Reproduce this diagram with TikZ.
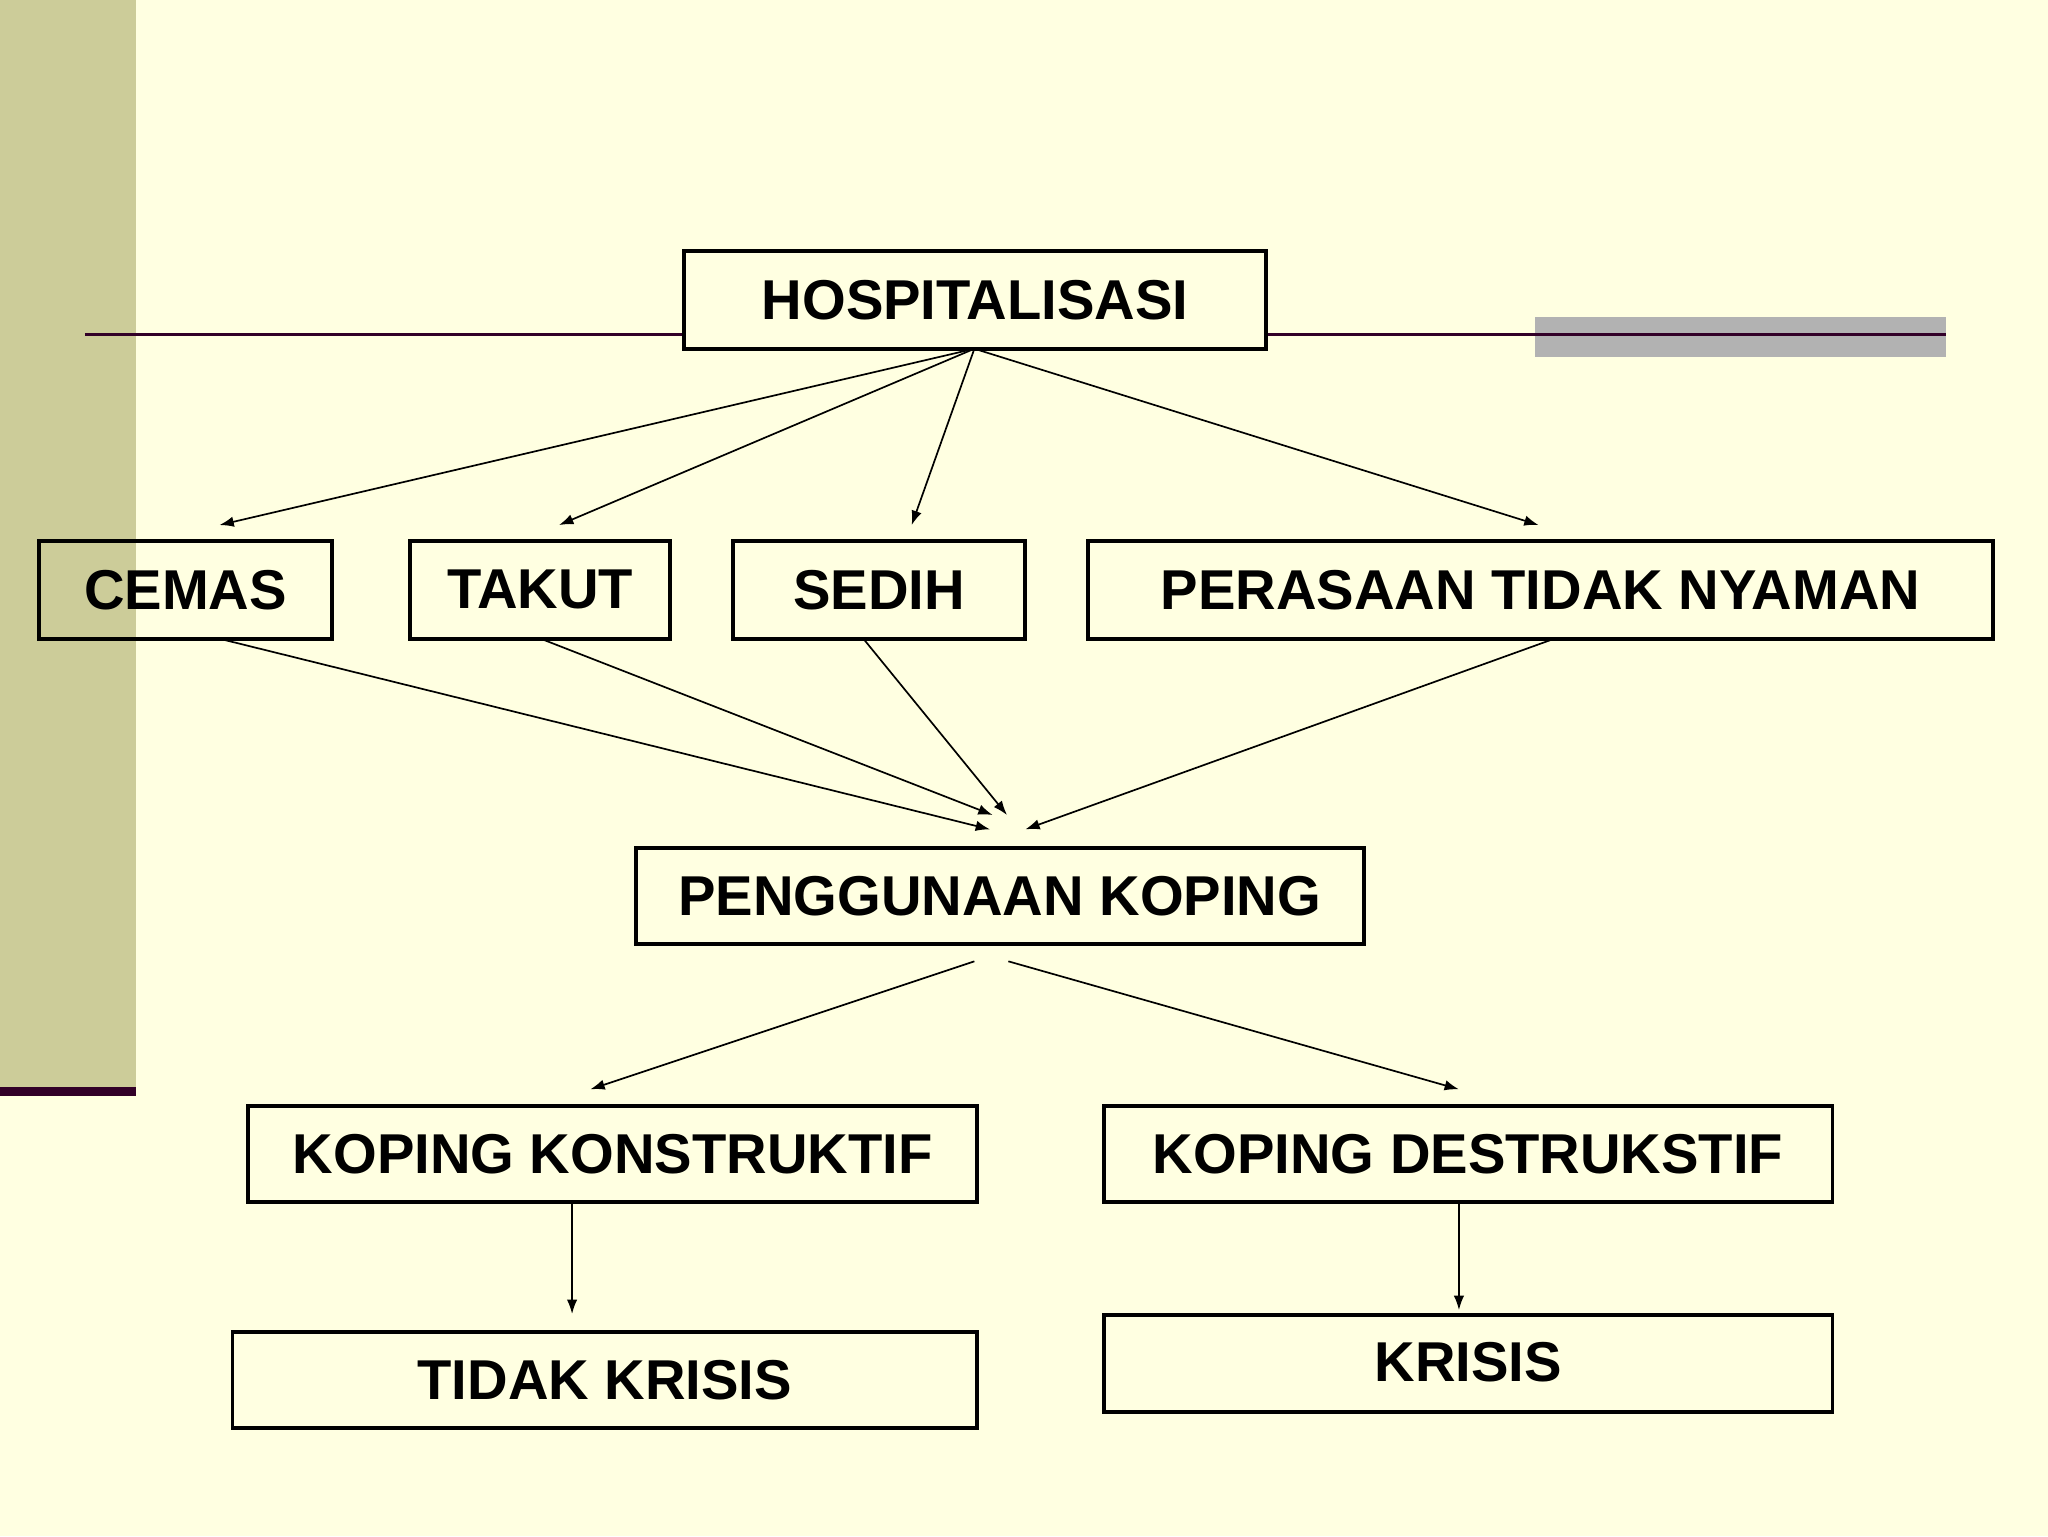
\documentclass[tikz,border=0pt]{standalone}
\usepackage{fontspec}
\setmainfont{Liberation Sans}
\usetikzlibrary{arrows.meta}
\definecolor{bg}{RGB}{255,255,225}
\definecolor{bar}{RGB}{204,204,153}
\definecolor{dpurp}{RGB}{50,0,40}
\tikzset{
 bx/.style={draw=black,line width=3pt,inner sep=0pt,font=\fontsize{43}{45}\selectfont\bfseries},
 ar/.style={-{Latex[length=11pt,width=8pt]},line width=1.3pt}
}
\begin{document}
\begin{tikzpicture}[x=1pt,y=-1pt]
\fill[bg] (0,0) rectangle (1568,1176);
\useasboundingbox (0,0) rectangle (1568,1176);
\fill[bar] (0,0) rectangle (104,835);
\fill[dpurp] (0,832) rectangle (104,839);
\fill[gray!60] (1175,243) rectangle (1490,273);
\draw[dpurp,line width=2.5pt] (65,256) -- (1490,256);
\newcommand{\bxn}[6]{\node[bx,minimum width={#4-#2},minimum height={#5-#3}] (#1) at ({(#2+#4)/2},{(#3+#5)/2}) {};\node[font=\fontsize{43}{45}\selectfont\bfseries] at ({(#2+#4)/2},{(#3+#5)/2}) {#6};}
\fill[bg] (524,192) rectangle (969,267);
\bxn{h}{524}{192}{969}{267}{HOSPITALISASI}
\bxn{c}{30}{414}{254}{489}{CEMAS}
\bxn{t}{314}{414}{513}{489}{TAKUT}
\bxn{s}{561}{414}{785}{489}{SEDIH}
\bxn{p}{833}{414}{1526}{489}{PERASAAN TIDAK NYAMAN}
\bxn{k}{487}{649}{1044}{723}{PENGGUNAAN KOPING}
\bxn{kk}{190}{847}{748}{920}{KOPING KONSTRUKTIF}
\bxn{kd}{845}{847}{1403}{920}{KOPING DESTRUKSTIF}
\bxn{tk}{178}{1020}{748}{1093}{TIDAK KRISIS}
\node[bx,minimum width=558,minimum height=74] (kr) at (1124,1044) {};
\node[font=\fontsize{43}{45}\selectfont\bfseries] at (1124,1043) {KRISIS};
\coordinate (h0) at (746,267);
\coordinate (c1) at (168,402);\coordinate (t1) at (428,402);
\coordinate (s1) at (698,402);\coordinate (p1) at (1178,402);
\foreach \e in {c1,t1,s1,p1}\draw[ar] (h0)--(\e);
\coordinate (c0) at (168,489);\coordinate (t0) at (414,489);
\coordinate (s0) at (661,489);\coordinate (p0) at (1190,489);
\coordinate (ce) at (758,635);\coordinate (te) at (760,624);
\coordinate (se) at (771,624);\coordinate (pe) at (785,635);
\draw[ar] (c0)--(ce);\draw[ar] (t0)--(te);\draw[ar] (s0)--(se);\draw[ar] (p0)--(pe);
\coordinate (k1) at (746,736);\coordinate (k2) at (772,736);
\coordinate (kk1) at (452,834);\coordinate (kd1) at (1117,834);
\draw[ar] (k1)--(kk1);\draw[ar] (k2)--(kd1);
\draw[ar] (438,920)--(438,1006);
\draw[ar] (1117,920)--(1117,1003);
\end{tikzpicture}
\end{document}
